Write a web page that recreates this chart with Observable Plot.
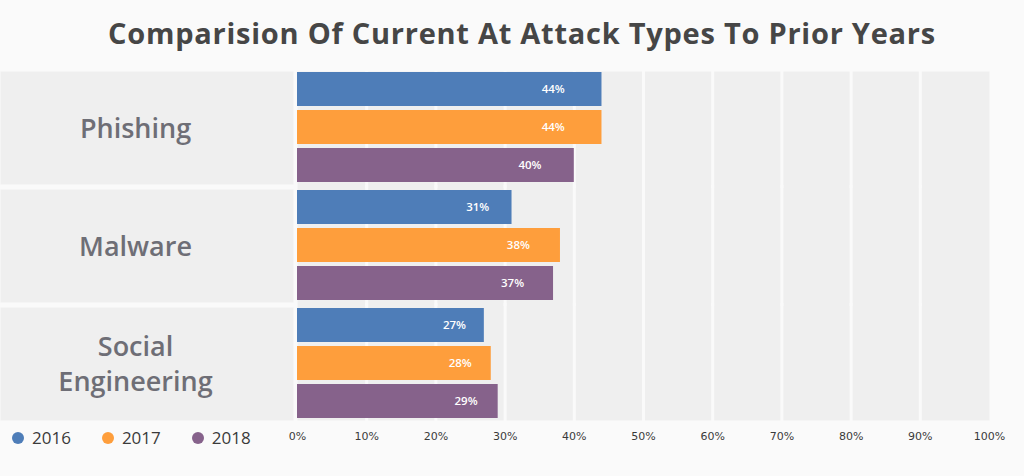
<!DOCTYPE html>
<html>
<head>
<meta charset="utf-8">
<script src="https://cdn.jsdelivr.net/npm/d3@7"></script>
<script src="https://cdn.jsdelivr.net/npm/@observablehq/plot@0.6"></script>
<style>
  html, body { margin: 0; padding: 0; background: #fafafa; }
  #wrap { position: relative; width: 1024px; height: 476px; overflow: hidden; }
  #title { height: 66px; line-height: 66px; padding-left: 20px; text-align: center; font-family: "Open Sans", sans-serif; font-weight: 700; font-size: 29px; letter-spacing: 0.75px; color: #464646; }
  #legend { position: absolute; left: 12px; top: 426px; display: flex; align-items: center; font-family: "Open Sans", sans-serif; font-size: 17px; color: #3a3a3a; }
  #legend .item { display: flex; align-items: center; margin-right: 31px; }
  #legend .dot { width: 12px; height: 12px; border-radius: 50%; margin-right: 8px; }
</style>
</head>
<body>
<div id="wrap">
  <div id="title">Comparision Of Current At Attack Types To Prior Years</div>
  <div id="chart"></div>
  <div id="legend"></div>
</div>
<script>
const categories = ["Phishing", "Malware", "Social Engineering"];
const categoryLabels = ["Phishing", "Malware", "Social\nEngineering"];
const years = ["2016", "2017", "2018"];
const colors = ["#4e7db8", "#fe9e3c", "#86628b"];
const values2016 = [44, 31, 27];
const values2017 = [44, 38, 28];
const values2018 = [40, 37, 29];
const xTicks = [0, 10, 20, 30, 40, 50, 60, 70, 80, 90, 100];
const gridTicks = [10, 20, 30, 40, 50, 60, 70, 80, 90];

const series = [values2016, values2017, values2018];
const data = [];
categories.forEach((c, i) => {
  years.forEach((y, j) => data.push({category: c, year: y, value: series[j][i]}));
});
const labelOf = new Map(categories.map((c, i) => [c, categoryLabels[i]]));

const chart = Plot.plot({
  width: 1024,
  height: 410,
  marginTop: 5,
  marginBottom: 56,
  marginLeft: 297,
  marginRight: 35,
  style: {background: "transparent", overflow: "visible"},
  x: {domain: [0, 100], axis: null},
  y: {domain: years, axis: null, paddingInner: 0.1, paddingOuter: 0},
  fy: {domain: categories, paddingInner: 0.045, paddingOuter: 0, axis: null},
  color: {domain: years, range: colors},
  marks: [
    Plot.frame({fill: "#efefef", insetLeft: -297, insetRight: 696}),
    Plot.frame({fill: "#efefef", facet: "super"}),
    Plot.ruleX(gridTicks, {x: d => d, stroke: "#fafafa", strokeWidth: 3, insetTop: -4, insetBottom: -4}),
    Plot.barX(data, {fy: "category", y: "year", x: "value", fill: "year"}),
    Plot.text(data, {fy: "category", y: "year", x: d => d.value * 0.84, text: d => d.value + "%", fill: "white", fontSize: 11.5, fontWeight: 600, fontFamily: "Open Sans"}),
    Plot.axisFy({anchor: "left", tickSize: 0, tickPadding: 0, dx: -162, dy: -2, textAnchor: "middle", label: null, tickFormat: d => labelOf.get(d), fontSize: 27, fontWeight: 600, fontFamily: "Open Sans", fill: "#6e6e76", lineHeight: 1.33}),
    Plot.axisX(xTicks, {anchor: "bottom", tickSize: 0, tickPadding: 12, label: null, tickFormat: d => d + "%", fontSize: 11, fontFamily: "DejaVu Sans", fill: "#3a3a3a"})
  ]
});
document.getElementById("chart").appendChild(chart);

const legend = document.getElementById("legend");
years.forEach((y, i) => {
  const item = document.createElement("div");
  item.className = "item";
  const dot = document.createElement("span");
  dot.className = "dot";
  dot.style.background = colors[i];
  item.appendChild(dot);
  const t = document.createElement("span");
  t.textContent = y;
  item.appendChild(t);
  legend.appendChild(item);
});
</script>
</body>
</html>
